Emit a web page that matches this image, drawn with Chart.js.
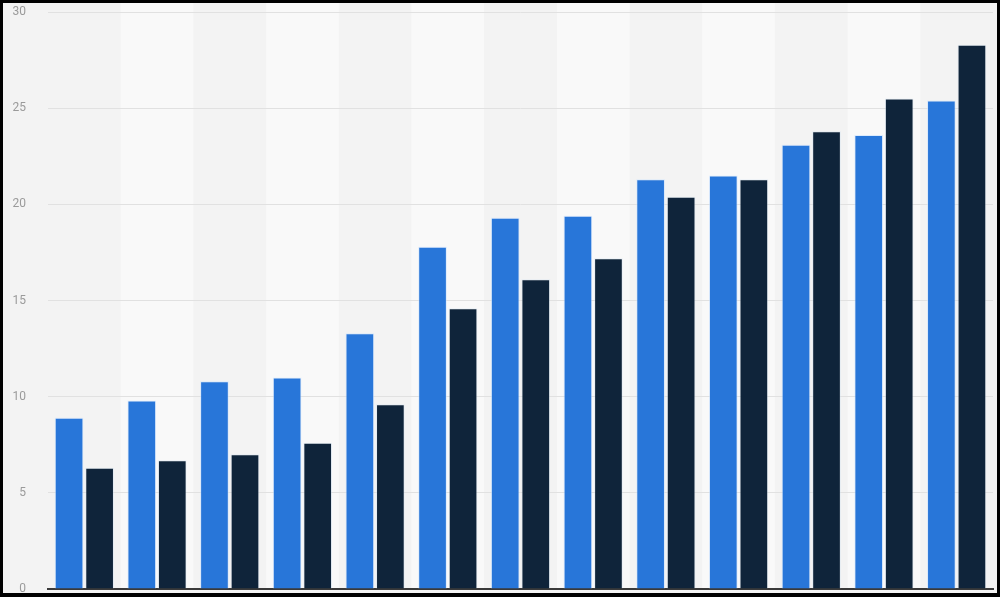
<!DOCTYPE html>
<html>
<head>
<meta charset="utf-8">
<script src="https://cdn.jsdelivr.net/npm/chart.js@4/dist/chart.umd.min.js"></script>
<style>
    body { margin: 0; background: #000; }
    #wrap { position: absolute; left: 3px; top: 3px; width: 994px; height: 590px; background: #f3f3f3; }
</style>
</head>
<body>
<div id="wrap"><canvas id="barChart" width="994" height="590"></canvas></div>
<script>
const categories = ['1', '2', '3', '4', '5', '6', '7', '8', '9', '10', '11', '12', '13'];
const seriesA = [8.9, 9.8, 10.8, 11.0, 13.3, 17.8, 19.3, 19.4, 21.3, 21.5, 23.1, 23.6, 25.4];
const seriesB = [6.3, 6.7, 7.0, 7.6, 9.6, 14.6, 16.1, 17.2, 20.4, 21.3, 23.8, 25.5, 28.3];
const yTicks = [0, 5, 10, 15, 20, 25, 30];

// alternating column bands behind the bars
const bandPlugin = {
    id: 'bands',
    beforeDraw(chart) {
        const ctx = chart.ctx;
        const x = chart.scales.x;
        const area = chart.chartArea;
        const step = (area.right - area.left) / categories.length;
        ctx.save();
        categories.forEach((c, i) => {
            if (i % 2 === 1) {
                const cx = x.getPixelForValue(i);
                ctx.fillStyle = '#f9f9f9';
                ctx.fillRect(cx - step / 2, 0, step, area.bottom);
            }
        });
        ctx.restore();
    }
};

const ctx = document.getElementById('barChart').getContext('2d');
new Chart(ctx, {
    type: 'bar',
    data: {
        labels: categories,
        datasets: [{
            data: seriesA,
            backgroundColor: '#2876d9',
            borderColor: 'rgba(200,225,255,0.6)',
            borderWidth: 1,
            borderSkipped: 'bottom'
        }, {
            data: seriesB,
            backgroundColor: '#0f243a',
            borderColor: 'rgba(200,220,240,0.35)',
            borderWidth: 1,
            borderSkipped: 'bottom'
        }]
    },
    options: {
        responsive: false,
        animation: false,
        categoryPercentage: 0.84,
        barPercentage: 0.94,
        layout: { padding: { left: 0, right: 4, top: 9, bottom: 4 } },
        plugins: {
            legend: { display: false },
            tooltip: { enabled: false }
        },
        scales: {
            x: {
                grid: { display: false, drawTicks: false },
                ticks: { display: false },
                border: { display: true, color: '#3a3a3a', width: 2 },
                afterFit: function (scale) { scale.height = 0; }
            },
            y: {
                min: 0,
                max: 30,
                afterBuildTicks: function (scale) {
                    scale.ticks = yTicks.map(v => ({ value: v }));
                },
                grid: { color: '#e1e1e1', lineWidth: 1, drawTicks: false },
                border: { display: false },
                ticks: {
                    color: '#9a9a9a',
                    font: { family: 'Roboto', size: 12 },
                    padding: 22
                },
                afterFit: function (scale) {
                    scale.width = 45;
                    // labels may overflow the plot edge, as in the original
                    scale.paddingTop = 0;
                    scale.paddingBottom = 0;
                }
            }
        }
    },
    plugins: [bandPlugin]
});
</script>
</body>
</html>
